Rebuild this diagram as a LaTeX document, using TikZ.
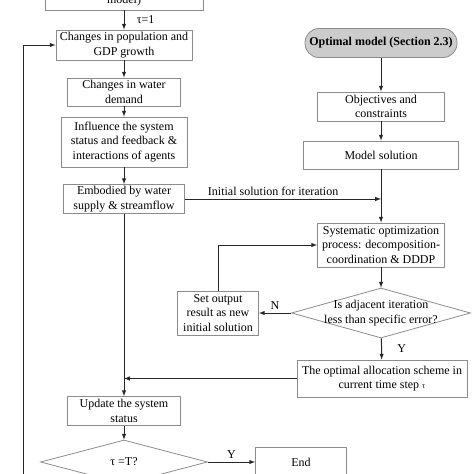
\documentclass[tikz,border=0pt]{standalone}
\usepackage{fontspec}
\setmainfont{Liberation Serif}
\usetikzlibrary{shapes.geometric}
\definecolor{box-gray}{gray}{0.55}
\definecolor{fill-gray}{gray}{0.8}
\definecolor{line-gray}{gray}{0.15}

\begin{document}
\begin{tikzpicture}[ >=latex, x=1pt, y=-1pt,
	every node/.style={font=\fontsize{12}{14.5}\selectfont},
	box/.style={draw=box-gray, line width=0.8pt, align=center, inner sep=1pt},
	decision/.style={draw=box-gray, line width=0.8pt, diamond, inner sep=0pt},
	flow/.style={->, draw=line-gray, line width=1pt}]

			\useasboundingbox (0,0) rectangle (474,474);
			\clip (0,0) rectangle (474,474);

			% simulation side
			\node[box, minimum width=158pt, minimum height=40pt] (start) at (124,-10) {};
			\node (startTxt) at (124,1) {model)};
			\node[box, minimum width=136pt, minimum height=30pt] (pop) at (124,45) {Changes in population and\\GDP growth};
			\node[box, minimum width=113pt, minimum height=28pt] (dem) at (124,92) {Changes in water\\demand};
			\node[box, minimum width=126pt, minimum height=50pt] (infl) at (124,142) {Influence the system\\status and feedback \&\\interactions of agents};
			\node[box, minimum width=121pt, minimum height=29pt] (emb) at (124,199) {Embodied by water\\supply \& streamflow};
			\node[box, minimum width=113pt, minimum height=29pt] (upd) at (124,411) {Update the system\\status};
			\node[decision, minimum width=167pt, minimum height=44pt, label=center:{τ =T?}] (last) at (124,462) {};
			\node[box, minimum width=91pt, minimum height=30pt] (fin) at (301,462) {End};

			% optimization side
			\node[box, fill=fill-gray, rounded corners=14pt, minimum width=152pt, minimum height=29pt,
				font=\fontsize{12}{14.5}\selectfont\bfseries] (opt) at (381,43) {Optimal model (Section 2.3)};
			\node[box, minimum width=127pt, minimum height=29pt] (obj) at (381,106.5) {Objectives and\\constraints};
			\node[box, minimum width=155pt, minimum height=28pt] (sol) at (381,155) {Model solution};
			\node[box, minimum width=127pt, minimum height=44pt] (sys) at (381,245) {Systematic optimization\\process: decomposition-\\coordination \& DDDP};
			\node[decision, minimum width=179pt, minimum height=50pt,
				label={[align=center]center:Is adjacent iteration\\less than specific error?}] (err) at (381,313) {};
			\node[box, minimum width=81pt, minimum height=44pt] (reset) at (218,313) {Set output\\result as new\\initial solution};
			\node[box, minimum width=170pt, minimum height=37pt] (alloc) at (382,378.5) {The optimal allocation scheme in\\current time step {\fontsize{8}{10}\selectfont τ}};

			\coordinate (loop) at (23,500);

			% connectors
			\draw[flow] (start) -- node[right, xshift=9pt]{τ=1} (pop);
			\draw[flow] (pop) -- (dem);
			\draw[flow] (dem) -- (infl);
			\draw[flow] (infl) -- (emb);
			\draw[flow] (emb) -- (upd);
			\draw[flow] (upd) -- (last);
			\draw[flow] (last) -- node[above]{Y} (fin);
			\draw[flow] (loop) |- (pop);

			\draw[flow] (opt) -- (obj);
			\draw[flow] (obj) -- (sol);
			\draw[flow] (sol) -- (sys);
			\draw[flow] (emb) -- node[above, pos=0.45]{Initial solution for iteration} (emb -| sys);
			\draw[flow] (sys) -- (err);
			\draw[flow] (err) -- node[above]{N} (reset);
			\draw[flow] (reset) |- (sys);
			\draw[flow] (err) -- node[right, xshift=12pt]{Y} (alloc);
			\draw[flow] (alloc) -- (alloc -| emb);

\end{tikzpicture}
\end{document}
